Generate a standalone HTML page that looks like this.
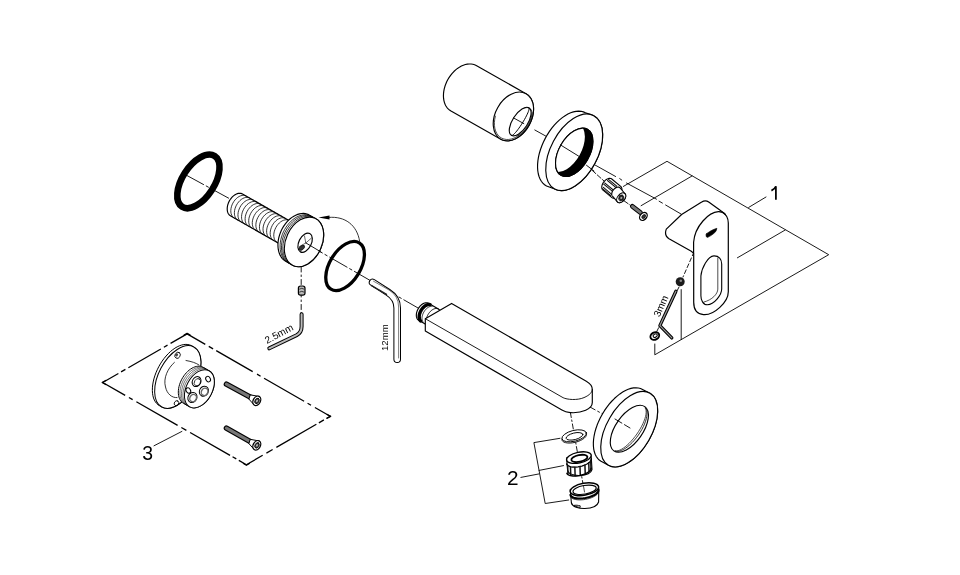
<!DOCTYPE html>
<html><head><meta charset="utf-8">
<style>
html,body{margin:0;padding:0;background:#fff;}
body{width:960px;height:575px;overflow:hidden;}
svg{display:block;will-change:transform;}
text{font-family:"Liberation Sans",sans-serif;fill:#000;stroke:none;}
</style></head><body>
<svg width="960" height="575" viewBox="0 0 960 575" fill="none" stroke="#000" stroke-width="1" stroke-linecap="round" stroke-linejoin="round">
<g stroke-width="0.9">
<path d="M534.8,130 L546,136.2 M587.5,160.8 L615.6,176.5 M619.7,178.6 L621.8,180.1 M626.5,183 L656.5,199.2 M659.1,201.2 L662.4,203.1 M665.6,205 L681,214"/>
<path d="M592,170.2 L604,181 M624,200.8 L632,206.4" stroke-dasharray="5 2"/>
<path d="M694,252 L683,277" stroke-dasharray="4 2.5"/>
<path d="M679,287 L656,333" stroke-dasharray="4 2.5"/>
<path d="M186,175 L232,200" stroke-dasharray="20 3 2.5 3"/>
<path d="M305,243 L425,312" stroke-dasharray="20 3 2.5 3"/>
<path d="M301.2,267 L301.2,313" stroke-dasharray="5 3 1.5 3"/>
<path d="M586.3,405 L630,429" stroke-dasharray="10 3 2 3"/>
<path d="M570.4,412.6 L585.5,498" stroke-dasharray="5 2.5 1.5 2.5"/>
</g>
<g stroke-width="1.15">
<path d="M476.21,65.56 L474.6,64.81 L472.89,64.29 L471.09,64.01 L469.22,63.95 L467.3,64.13 L465.33,64.54 L463.36,65.19 L461.38,66.05 L459.43,67.13 L457.51,68.41 L455.66,69.88 L453.88,71.54 L452.19,73.35 L450.62,75.3 L449.17,77.39 L447.86,79.57 L446.7,81.84 L445.7,84.18 L444.88,86.55 L444.23,88.94 L443.77,91.32 L443.51,93.68 L443.43,95.98 L443.55,98.21 L443.87,100.34 L444.37,102.36 L445.06,104.24 L445.93,105.97 L446.97,107.53 L448.17,108.9 L449.51,110.08 L450.99,111.04 L500.79,139.14 L502.4,139.89 L504.11,140.41 L505.91,140.69 L507.78,140.75 L509.7,140.57 L511.67,140.16 L513.64,139.51 L515.62,138.65 L517.57,137.57 L519.49,136.29 L521.34,134.82 L523.12,133.16 L524.81,131.35 L526.38,129.4 L527.83,127.31 L529.14,125.13 L530.3,122.86 L531.3,120.52 L532.12,118.15 L532.77,115.76 L533.23,113.38 L533.49,111.02 L533.57,108.72 L533.45,106.49 L533.13,104.36 L532.63,102.34 L531.94,100.46 L531.07,98.73 L530.03,97.17 L528.83,95.8 L527.49,94.62 L526.01,93.66 Z" fill="#fff" />
<ellipse cx="513.4" cy="116.4" rx="26" ry="18" transform="rotate(-61 513.4 116.4)" fill="#fff"/>
<path d="M532.19,112.69 L531.6,115.87 L530.66,119.06 L529.4,122.19 L527.83,125.22 L525.98,128.08 L523.9,130.71 L521.61,133.07 L519.17,135.12 L516.62,136.8 L514,138.1 L511.38,138.99 L508.79,139.44 L506.3,139.46 L503.93,139.03 L501.75,138.18 L499.79,136.91 L498.09,135.24 L496.68,133.22 L495.59,130.88 L494.84,128.26 L494.44,125.42 L494.41,122.4 L494.73,119.27 L495.41,116.09" stroke-width="0.7"/>
<ellipse cx="520.2" cy="121.6" rx="16.3" ry="7.6" transform="rotate(-57 520.2 121.6)" fill="#fff"/>
<path d="M528.84,107.78 L529.05,108.07 L529.11,108.6 L529.02,109.36 L528.78,110.32 L528.4,111.47 L527.87,112.8 L527.21,114.28 L526.43,115.88 L525.54,117.58 L524.57,119.35 L523.51,121.16 L522.4,122.98 L521.26,124.77 L520.09,126.51 L518.93,128.16 L517.79,129.7 L516.69,131.11 L515.65,132.35 L514.69,133.41 L513.82,134.26 L513.06,134.9 L512.43,135.31 L511.92,135.48 L511.56,135.42" stroke-width="1.0"/>
<path d="M523.28,108.66 L524.77,108.05 L526.18,107.7 L527.5,107.63 L528.69,107.83 L529.73,108.3 L530.6,109.03 L531.29,110.01 L531.78,111.22 L532.06,112.63 L532.13,114.22 L531.98,115.96 L531.63,117.82 L531.06,119.75 L530.31,121.73 L529.38,123.71 L528.28,125.66 L527.05,127.54 L525.69,129.32 L524.25,130.95 L522.74,132.42 L521.2,133.69 L519.65,134.73 L518.12,135.53 L516.65,136.07" stroke-width="0.6"/>
</g>
<path d="M513.7,118 L523.8,123.6" stroke-width="0.9"/>
<g stroke-width="1.15">
<path d="M585.48,112.76 L583.36,111.85 L581.06,111.31 L578.62,111.13 L576.06,111.32 L573.4,111.88 L570.67,112.8 L567.9,114.08 L565.1,115.69 L562.32,117.63 L559.57,119.87 L556.89,122.4 L554.29,125.18 L551.8,128.21 L549.45,131.43 L547.26,134.83 L545.25,138.37 L543.44,142.01 L541.85,145.73 L540.49,149.48 L539.37,153.23 L538.52,156.94 L537.92,160.58 L537.6,164.12 L537.55,167.51 L537.78,170.73 L538.27,173.74 L539.04,176.51 L540.06,179.03 L541.33,181.26 L542.84,183.19 L544.58,184.78 L546.52,186.04 L554.72,188.94 L556.84,189.85 L559.14,190.39 L561.58,190.57 L564.14,190.38 L566.8,189.82 L569.53,188.9 L572.3,187.62 L575.1,186.01 L577.88,184.07 L580.63,181.83 L583.31,179.3 L585.91,176.52 L588.4,173.49 L590.75,170.27 L592.94,166.87 L594.95,163.33 L596.76,159.69 L598.35,155.97 L599.71,152.22 L600.83,148.47 L601.68,144.76 L602.28,141.12 L602.6,137.58 L602.65,134.19 L602.42,130.97 L601.93,127.96 L601.16,125.19 L600.14,122.67 L598.87,120.44 L597.36,118.51 L595.62,116.92 L593.68,115.66 Z" fill="#fff" />
<ellipse cx="574.2" cy="152.3" rx="41.5" ry="23.5" transform="rotate(-62 574.2 152.3)" fill="#fff"/>
<clipPath id="h1"><ellipse cx="574.2" cy="152.3" rx="26.5" ry="15.2" transform="rotate(-60 574.2 152.3)" /></clipPath>
<ellipse cx="574.2" cy="152.3" rx="26.5" ry="15.2" transform="rotate(-60 574.2 152.3)" fill="#000"/>
<g clip-path="url(#h1)"><ellipse cx="566.4" cy="147.6" rx="26.5" ry="15.2" transform="rotate(-61 566.4 147.6)" fill="#fff" stroke="none"/></g>
<ellipse cx="574.2" cy="152.3" rx="26.5" ry="15.2" transform="rotate(-60 574.2 152.3)" />
</g>
<path d="M560.6,145 L578.6,156.1" stroke-width="0.9"/>
<path d="M586.5,165.3 L594,171" stroke-width="0.9"/>
<ellipse cx="198.4" cy="181.4" rx="30.2" ry="16" transform="rotate(-57.4 198.4 181.4)" stroke-width="6.6"/>
<ellipse cx="345.1" cy="266" rx="27.2" ry="15.4" transform="rotate(-58.6 345.1 266)" stroke-width="3.3"/>
<g stroke-width="1.15">
<path d="M242.47,193.96 L241.72,193.63 L240.93,193.42 L240.09,193.31 L239.22,193.31 L238.32,193.43 L237.41,193.66 L236.49,194 L235.57,194.44 L234.66,194.99 L233.77,195.63 L232.9,196.36 L232.08,197.18 L231.29,198.07 L230.56,199.03 L229.88,200.04 L229.27,201.1 L228.73,202.2 L228.27,203.33 L227.88,204.47 L227.58,205.62 L227.37,206.77 L227.25,207.89 L227.21,208.99 L227.27,210.05 L227.41,211.06 L227.65,212.01 L227.97,212.9 L228.37,213.71 L228.86,214.43 L229.41,215.06 L230.04,215.6 L230.73,216.04 L279.43,243.74 L280.18,244.07 L280.97,244.28 L281.81,244.39 L282.68,244.39 L283.58,244.27 L284.49,244.04 L285.41,243.7 L286.33,243.26 L287.24,242.71 L288.13,242.07 L289,241.34 L289.82,240.52 L290.61,239.63 L291.34,238.67 L292.02,237.66 L292.63,236.6 L293.17,235.5 L293.63,234.37 L294.02,233.23 L294.32,232.08 L294.53,230.93 L294.65,229.81 L294.69,228.71 L294.63,227.65 L294.49,226.64 L294.25,225.69 L293.93,224.8 L293.53,223.99 L293.04,223.27 L292.49,222.64 L291.86,222.1 L291.17,221.66 Z" fill="#fff" />
</g>
<g stroke-width="0.8">
<path d="M246.05,196 L244.83,195.53 L243.5,195.34 L242.08,195.43 L240.62,195.82 L239.15,196.48 L237.7,197.4 L236.32,198.55 L235.02,199.92 L233.86,201.46 L232.85,203.14 L232.02,204.91 L231.4,206.74 L230.99,208.58 L230.8,210.37 L230.85,212.09 L231.13,213.68 L231.63,215.1 L232.34,216.33 L233.24,217.33 L234.31,218.07"/>
<path d="M249.63,198.04 L248.41,197.56 L247.08,197.37 L245.66,197.47 L244.2,197.85 L242.73,198.51 L241.28,199.43 L239.9,200.59 L238.61,201.96 L237.44,203.5 L236.43,205.18 L235.61,206.95 L234.98,208.78 L234.57,210.61 L234.38,212.41 L234.43,214.12 L234.71,215.71 L235.21,217.14 L235.92,218.37 L236.82,219.36 L237.89,220.11"/>
<path d="M253.21,200.07 L251.99,199.6 L250.66,199.41 L249.24,199.51 L247.78,199.89 L246.31,200.55 L244.86,201.47 L243.48,202.63 L242.19,203.99 L241.02,205.54 L240.01,207.21 L239.19,208.99 L238.56,210.81 L238.15,212.65 L237.96,214.45 L238.01,216.16 L238.29,217.75 L238.79,219.18 L239.5,220.4 L240.4,221.4 L241.47,222.15"/>
<path d="M256.79,202.11 L255.57,201.64 L254.24,201.45 L252.83,201.54 L251.36,201.93 L249.89,202.59 L248.44,203.51 L247.06,204.66 L245.77,206.03 L244.6,207.57 L243.6,209.25 L242.77,211.02 L242.14,212.85 L241.73,214.69 L241.55,216.48 L241.59,218.2 L241.87,219.79 L242.37,221.21 L243.08,222.44 L243.98,223.44 L245.06,224.18"/>
<path d="M260.37,204.15 L259.15,203.67 L257.82,203.48 L256.41,203.58 L254.94,203.96 L253.47,204.62 L252.02,205.54 L250.64,206.7 L249.35,208.07 L248.18,209.61 L247.18,211.29 L246.35,213.06 L245.72,214.89 L245.31,216.72 L245.13,218.52 L245.17,220.23 L245.45,221.82 L245.95,223.25 L246.66,224.48 L247.56,225.48 L248.64,226.22"/>
<path d="M263.95,206.18 L262.74,205.71 L261.4,205.52 L259.99,205.62 L258.53,206 L257.05,206.66 L255.61,207.58 L254.22,208.74 L252.93,210.1 L251.77,211.65 L250.76,213.32 L249.93,215.1 L249.3,216.93 L248.89,218.76 L248.71,220.56 L248.75,222.27 L249.03,223.86 L249.53,225.29 L250.24,226.51 L251.14,227.51 L252.22,228.26"/>
<path d="M267.53,208.22 L266.32,207.75 L264.98,207.56 L263.57,207.65 L262.11,208.04 L260.63,208.7 L259.19,209.62 L257.8,210.77 L256.51,212.14 L255.35,213.68 L254.34,215.36 L253.51,217.14 L252.88,218.96 L252.47,220.8 L252.29,222.59 L252.33,224.31 L252.61,225.9 L253.11,227.32 L253.82,228.55 L254.72,229.55 L255.8,230.29"/>
<path d="M271.12,210.26 L269.9,209.78 L268.56,209.59 L267.15,209.69 L265.69,210.07 L264.21,210.73 L262.77,211.65 L261.38,212.81 L260.09,214.18 L258.93,215.72 L257.92,217.4 L257.09,219.17 L256.46,221 L256.05,222.83 L255.87,224.63 L255.92,226.34 L256.19,227.93 L256.69,229.36 L257.4,230.59 L258.3,231.59 L259.38,232.33"/>
<path d="M274.7,212.29 L273.48,211.82 L272.14,211.63 L270.73,211.73 L269.27,212.11 L267.8,212.77 L266.35,213.69 L264.96,214.85 L263.67,216.21 L262.51,217.76 L261.5,219.43 L260.67,221.21 L260.04,223.04 L259.63,224.87 L259.45,226.67 L259.5,228.38 L259.77,229.97 L260.27,231.4 L260.98,232.62 L261.89,233.62 L262.96,234.37"/>
<path d="M278.28,214.33 L277.06,213.86 L275.73,213.67 L274.31,213.76 L272.85,214.15 L271.38,214.81 L269.93,215.73 L268.54,216.89 L267.25,218.25 L266.09,219.79 L265.08,221.47 L264.25,223.25 L263.63,225.07 L263.21,226.91 L263.03,228.7 L263.08,230.42 L263.35,232.01 L263.85,233.43 L264.56,234.66 L265.47,235.66 L266.54,236.4"/>
<path d="M281.86,216.37 L280.64,215.89 L279.31,215.7 L277.89,215.8 L276.43,216.19 L274.96,216.84 L273.51,217.76 L272.12,218.92 L270.83,220.29 L269.67,221.83 L268.66,223.51 L267.83,225.28 L267.21,227.11 L266.8,228.94 L266.61,230.74 L266.66,232.45 L266.93,234.04 L267.43,235.47 L268.14,236.7 L269.05,237.7 L270.12,238.44"/>
<path d="M285.44,218.4 L284.22,217.93 L282.89,217.74 L281.47,217.84 L280.01,218.22 L278.54,218.88 L277.09,219.8 L275.71,220.96 L274.41,222.32 L273.25,223.87 L272.24,225.54 L271.41,227.32 L270.79,229.15 L270.38,230.98 L270.19,232.78 L270.24,234.49 L270.52,236.08 L271.01,237.51 L271.72,238.73 L272.63,239.73 L273.7,240.48"/>
<path d="M289.02,220.44 L287.8,219.97 L286.47,219.78 L285.05,219.88 L283.59,220.26 L282.12,220.92 L280.67,221.84 L279.29,223 L278,224.36 L276.83,225.9 L275.82,227.58 L275,229.36 L274.37,231.18 L273.96,233.02 L273.77,234.81 L273.82,236.53 L274.1,238.12 L274.6,239.54 L275.31,240.77 L276.21,241.77 L277.28,242.51"/>
</g>
<g stroke-width="1.15">
<path d="M308.59,214.64 L306.94,214 L305.19,213.6 L303.38,213.44 L301.51,213.52 L299.6,213.83 L297.67,214.38 L295.74,215.16 L293.83,216.16 L291.96,217.37 L290.14,218.78 L288.39,220.38 L286.73,222.15 L285.18,224.08 L283.74,226.14 L282.44,228.32 L281.29,230.59 L280.29,232.94 L279.46,235.34 L278.8,237.76 L278.32,240.19 L278.03,242.6 L277.93,244.97 L278.02,247.27 L278.29,249.48 L278.76,251.59 L279.4,253.57 L280.22,255.4 L281.21,257.06 L282.35,258.54 L283.64,259.83 L285.07,260.9 L286.61,261.76 L293.01,265.46 L294.66,266.1 L296.41,266.5 L298.22,266.66 L300.09,266.58 L302,266.27 L303.93,265.72 L305.86,264.94 L307.77,263.94 L309.64,262.73 L311.46,261.32 L313.21,259.72 L314.87,257.95 L316.42,256.02 L317.86,253.96 L319.16,251.78 L320.31,249.51 L321.31,247.16 L322.14,244.76 L322.8,242.34 L323.28,239.91 L323.57,237.5 L323.67,235.13 L323.58,232.83 L323.31,230.62 L322.84,228.51 L322.2,226.53 L321.38,224.7 L320.39,223.04 L319.25,221.56 L317.96,220.27 L316.53,219.2 L314.99,218.34 Z" fill="#fff" />
<path d="M313.51,217.49 L311.75,216.83 L309.88,216.43 L307.93,216.3 L305.93,216.44 L303.88,216.85 L301.82,217.52 L299.77,218.46 L297.75,219.64 L295.78,221.05 L293.89,222.69 L292.09,224.52 L290.4,226.54 L288.85,228.72 L287.45,231.03 L286.21,233.45 L285.15,235.96 L284.28,238.52 L283.61,241.11 L283.15,243.69 L282.9,246.25 L282.87,248.75 L283.05,251.17 L283.44,253.48 L284.04,255.65 L284.85,257.66 L285.85,259.49 L287.03,261.12 L288.38,262.53 L289.89,263.7 L291.53,264.62" stroke-width="0.8"/>
<path d="M312.12,216.7 L310.35,216.04 L308.49,215.64 L306.54,215.51 L304.54,215.65 L302.49,216.06 L300.43,216.73 L298.38,217.66 L296.36,218.85 L294.39,220.26 L292.5,221.9 L290.7,223.73 L289.01,225.75 L287.46,227.93 L286.06,230.24 L284.82,232.66 L283.76,235.16 L282.89,237.72 L282.22,240.31 L281.76,242.9 L281.51,245.46 L281.48,247.96 L281.66,250.38 L282.05,252.69 L282.65,254.86 L283.46,256.87 L284.46,258.7 L285.64,260.33 L286.99,261.73 L288.5,262.91 L290.14,263.83" stroke-width="0.8"/>
<path d="M310.73,215.91 L308.96,215.24 L307.1,214.84 L305.15,214.71 L303.14,214.85 L301.1,215.26 L299.04,215.94 L296.99,216.87 L294.97,218.05 L293,219.47 L291.11,221.1 L289.31,222.94 L287.62,224.96 L286.07,227.13 L284.67,229.45 L283.43,231.87 L282.37,234.37 L281.5,236.93 L280.83,239.52 L280.37,242.11 L280.12,244.67 L280.09,247.17 L280.27,249.59 L280.66,251.9 L281.26,254.07 L282.07,256.08 L283.07,257.91 L284.25,259.53 L285.6,260.94 L287.11,262.11 L288.75,263.04" stroke-width="0.8"/>
<ellipse cx="304" cy="241.9" rx="26" ry="18" transform="rotate(-65 304 241.9)" fill="#fff"/>
<ellipse cx="305.1" cy="242.7" rx="10.3" ry="6.2" transform="rotate(-63 305.1 242.7)" />
<path d="M299.5,246.5 L305.8,243 L311.5,238 M305.8,243 L304.5,236" stroke-width="0.6"/>
</g>
<path d="M306,243 L321,252" stroke-width="0.9"/>
<ellipse cx="301.8" cy="247.8" rx="3.2" ry="2" transform="rotate(-40 301.8 247.8)" fill="#333" stroke-width="0.6"/>
<path d="M329,217.4 C345,216 357,225 359.6,241" stroke-width="0.8"/>
<path d="M318.5,217.5 L329.5,215.6 L329.5,219.4 Z" fill="#000" stroke="none"/>
<rect x="298.4" y="286" width="6.6" height="9.2" rx="2.2" fill="#bbb" stroke-width="1.2"/>
<path d="M299.5,289 Q301.7,287.5 304,289 M299.5,292 Q301.7,290.5 304,292" stroke-width="0.7"/>
<path d="M301.6,314.3 L301.6,326.5 Q301.6,332.5 296.6,335.2 L269.3,348.3" stroke-width="4"/>
<path d="M301.6,314.3 L301.6,326.5 Q301.6,332.5 296.6,335.2 L269.3,348.3" stroke="#bbb" stroke-width="2"/>
<text font-size="10" transform="translate(267.1,344.0) rotate(-28)" stroke="#000" stroke-width="0.15">2.5mm</text>
<path d="M372.6,282.4 L388,292.3 Q397.2,298 397.2,308 L397.2,359.2" stroke-width="7.6"/>
<path d="M372.6,282.4 L388,292.3 Q397.2,298 397.2,308 L397.2,359.2" stroke="#fff" stroke-width="5.6"/>
<path d="M371.5,285.6 L386.5,294.3" stroke="#222" stroke-width="1.4" stroke-dasharray="1.2 0.5"/>
<path d="M373.5,281.2 L389,290 Q398.6,295.8 398.6,307 L398.6,358" stroke="#222" stroke-width="0.6"/>
<text font-size="9.6" transform="translate(387.8,351) rotate(-90)" stroke="#000" stroke-width="0.15">12mm</text>
<g stroke-width="1.15">
<path d="M428.5,303.31 L427.95,303.05 L427.36,302.87 L426.73,302.78 L426.07,302.77 L425.39,302.85 L424.69,303.02 L423.98,303.27 L423.27,303.61 L422.56,304.02 L421.86,304.51 L421.17,305.07 L420.51,305.69 L419.88,306.37 L419.29,307.1 L418.74,307.88 L418.23,308.7 L417.78,309.55 L417.38,310.42 L417.04,311.3 L416.76,312.18 L416.55,313.07 L416.41,313.94 L416.34,314.79 L416.34,315.61 L416.41,316.39 L416.54,317.13 L416.75,317.82 L417.02,318.45 L417.35,319.02 L417.75,319.52 L418.2,319.94 L418.7,320.29 L428.6,325.99 L429.15,326.25 L429.74,326.43 L430.37,326.52 L431.03,326.53 L431.71,326.45 L432.41,326.28 L433.12,326.03 L433.83,325.69 L434.54,325.28 L435.24,324.79 L435.93,324.23 L436.59,323.61 L437.22,322.93 L437.81,322.2 L438.36,321.42 L438.87,320.6 L439.32,319.75 L439.72,318.88 L440.06,318 L440.34,317.12 L440.55,316.23 L440.69,315.36 L440.76,314.51 L440.76,313.69 L440.69,312.91 L440.56,312.17 L440.35,311.48 L440.08,310.85 L439.75,310.28 L439.35,309.78 L438.9,309.36 L438.4,309.01 Z" fill="#fff" />
<path d="M430.04,304.6 L429.33,304.49 L428.58,304.5 L427.8,304.62 L427,304.87 L426.19,305.23 L425.37,305.7 L424.57,306.27 L423.79,306.93 L423.04,307.68 L422.34,308.51 L421.68,309.4 L421.09,310.35 L420.57,311.34 L420.12,312.35 L419.76,313.37 L419.48,314.4 L419.29,315.4 L419.2,316.38 L419.2,317.32 L419.3,318.21 L419.49,319.02 L419.77,319.77 L420.14,320.42 L420.59,320.98" stroke-width="3.4"/>
<path d="M432.14,306.29 L431.46,306.26 L430.75,306.34 L430.02,306.52 L429.27,306.8 L428.52,307.18 L427.78,307.64 L427.04,308.2 L426.33,308.83 L425.65,309.54 L425.01,310.31 L424.42,311.13 L423.88,312 L423.4,312.9 L422.98,313.83 L422.63,314.77 L422.36,315.71 L422.17,316.64 L422.05,317.55 L422.02,318.43 L422.07,319.27 L422.2,320.06 L422.41,320.78 L422.7,321.44 L423.06,322.01" stroke-width="0.8"/>
<path d="M438.4,309.01 L437.66,308.68 L436.84,308.5 L435.97,308.47 L435.06,308.6 L434.12,308.88 L433.17,309.31 L432.22,309.87 L431.3,310.57 L430.41,311.39 L429.58,312.31 L428.82,313.32 L428.13,314.4 L427.54,315.53 L427.05,316.7 L426.66,317.88 L426.4,319.06 L426.26,320.21 L426.24,321.31 L426.34,322.35 L426.57,323.3 L426.92,324.15 L427.38,324.9 L427.94,325.51 L428.6,325.99" stroke-width="0.9"/>
<path d="M425.3,318.7 L451.6,303.4 L586.3,381.3 C590.6,383.8 592.3,386.5 592.3,389.5 L592.3,402.6 C592.3,409 582,413.4 570.4,412.6 C566.5,412.3 563.8,411.2 561.9,410 L425.3,331.1 Z" fill="#fff"/>
<path d="M425.3,318.7 L563.1,397.7 C567,399.6 577,400.6 584,397.6 C590,395 592.3,392 592.3,389.5" stroke-width="0.9"/>
</g>
<g stroke-width="1.15">
<path d="M642.55,389.46 L640.54,388.53 L638.35,387.96 L636,387.74 L633.51,387.89 L630.91,388.4 L628.23,389.27 L625.48,390.48 L622.69,392.03 L619.9,393.9 L617.13,396.08 L614.4,398.54 L611.74,401.25 L609.18,404.2 L606.74,407.35 L604.44,410.68 L602.31,414.15 L600.37,417.73 L598.64,421.38 L597.13,425.07 L595.86,428.76 L594.83,432.42 L594.07,436.01 L593.57,439.5 L593.35,442.86 L593.4,446.05 L593.72,449.03 L594.31,451.79 L595.17,454.3 L596.29,456.53 L597.65,458.45 L599.24,460.06 L601.05,461.34 L608.45,465.14 L610.46,466.07 L612.65,466.64 L615,466.86 L617.49,466.71 L620.09,466.2 L622.77,465.33 L625.52,464.12 L628.31,462.57 L631.1,460.7 L633.87,458.52 L636.6,456.06 L639.26,453.35 L641.82,450.4 L644.26,447.25 L646.56,443.92 L648.69,440.45 L650.63,436.87 L652.36,433.22 L653.87,429.53 L655.14,425.84 L656.17,422.18 L656.93,418.59 L657.43,415.1 L657.65,411.74 L657.6,408.55 L657.28,405.57 L656.69,402.81 L655.83,400.3 L654.71,398.07 L653.35,396.15 L651.76,394.54 L649.95,393.26 Z" fill="#fff" />
<ellipse cx="629.2" cy="429.2" rx="41.5" ry="22.5" transform="rotate(-60 629.2 429.2)" fill="#fff"/>
<ellipse cx="629.35" cy="428.75" rx="27" ry="13.6" transform="rotate(-55 629.35 428.75)" />
<path d="M645.33,407.59 L646.16,408.76 L646.72,410.24 L647.02,412 L647.05,414.01 L646.81,416.25 L646.3,418.68 L645.54,421.26 L644.52,423.96 L643.28,426.73 L641.82,429.53 L640.17,432.32 L638.36,435.06 L636.41,437.7 L634.35,440.2 L632.22,442.53 L630.04,444.64 L627.85,446.52 L625.69,448.12 L623.58,449.43 L621.55,450.42 L619.65,451.08 L617.9,451.4 L616.32,451.38 L614.94,451.01" stroke-width="0.8"/>
<path d="M645.28,408.23 L645.81,409.35 L646.1,410.75 L646.15,412.41 L645.97,414.29 L645.55,416.38 L644.9,418.65 L644.03,421.06 L642.95,423.58 L641.67,426.18 L640.22,428.81 L638.62,431.44 L636.89,434.03 L635.04,436.54 L633.12,438.95 L631.15,441.21 L629.14,443.29 L627.15,445.17 L625.18,446.81 L623.27,448.2 L621.45,449.31 L619.74,450.13 L618.17,450.64 L616.75,450.85 L615.52,450.74" stroke-width="0.7"/>
</g>
<path d="M615,419 L630,428" stroke-width="0.9" stroke-dasharray="8 3"/>
<g stroke-width="0.9">
<ellipse cx="574.2" cy="435.8" rx="12.6" ry="5.4" transform="rotate(-14 574.2 435.8)" fill="#fff"/>
<ellipse cx="574.5" cy="436.3" rx="8.6" ry="3.3" transform="rotate(-14 574.5 436.3)" />
<path d="M586.01,433.09 L586.47,434.18 L586.35,435.41 L585.65,436.72 L584.41,438.03 L582.68,439.3 L580.55,440.46 L578.12,441.46 L575.51,442.24 L572.83,442.78 L570.22,443.04 L567.79,443.01 L565.67,442.7 L563.96,442.12 L562.73,441.3 L562.04,440.27 L561.93,439.09"/>
<path d="M566.6,457.8 L567.6,470.5 C569.5,477.5 590,477 592,469.5 L591.2,456.5" fill="#fff" stroke-width="1.1"/>
<ellipse cx="578.9" cy="457.6" rx="12.6" ry="5.3" transform="rotate(-12 578.9 457.6)" fill="#fff" stroke-width="1.3"/>
<ellipse cx="579.4" cy="458.4" rx="8.2" ry="3.3" transform="rotate(-12 579.4 458.4)" stroke-width="1.8"/>
<path d="M591.13,458.7 L591.15,459.54 L590.87,460.43 L590.29,461.34 L589.44,462.24 L588.32,463.13 L586.98,463.97 L585.43,464.74 L583.73,465.43 L581.9,466.01 L580,466.48 L578.08,466.83 L576.17,467.03 L574.33,467.1 L572.6,467.02 L571.03,466.8 L569.66,466.45 L568.51,465.97 L567.61,465.37 L567,464.68 L566.67,463.9" stroke-width="1.3"/>
<path d="M567.65,465.27 L567.95,473.87 M570.45,466.71 L570.75,475.31 M574.84,467.18 L575.14,475.78 M579.98,466.59 L580.28,475.19 M584.92,465.04 L585.22,473.64 M588.74,462.83 L589.04,471.43 M590.71,460.37 L591.01,468.97" stroke-width="1.5" stroke="#111"/>
<path d="M591.08,468.18 L590.95,469 L590.56,469.85 L589.91,470.71 L589.02,471.56 L587.91,472.38 L586.6,473.16 L585.12,473.87 L583.5,474.5 L581.78,475.05 L580,475.48 L578.2,475.81 L576.41,476.01 L574.67,476.09 L573.03,476.04 L571.52,475.86 L570.17,475.57 L569.01,475.15 L568.07,474.63 L567.36,474.02 L566.91,473.32" stroke-width="1.5"/>
<path d="M570.2,489.5 L571.4,503 C573.5,510.5 596,510.5 598.6,502 L598.8,488.5" fill="#fff" stroke-width="1.1"/>
<ellipse cx="584.4" cy="489.2" rx="14.4" ry="6" transform="rotate(-10 584.4 489.2)" fill="#fff" stroke-width="1.5"/>
<ellipse cx="584.6" cy="489.8" rx="11.8" ry="4.3" transform="rotate(-10 584.6 489.8)" stroke-width="1.1"/>
<path d="M598.52,490.02 L598.4,490.95 L597.96,491.9 L597.2,492.86 L596.16,493.8 L594.84,494.71 L593.28,495.55 L591.52,496.33 L589.59,497 L587.54,497.57 L585.42,498.01 L583.28,498.32 L581.17,498.49 L579.12,498.51 L577.2,498.39 L575.45,498.12 L573.9,497.72 L572.59,497.2 L571.56,496.55 L570.82,495.81 L570.39,494.98" stroke-width="2.1"/>
<path d="M598.52,491.63 L598.33,492.54 L597.84,493.47 L597.05,494.41 L595.99,495.33 L594.67,496.21 L593.12,497.03 L591.39,497.78 L589.5,498.43 L587.49,498.98 L585.42,499.41 L583.33,499.71 L581.26,499.88 L579.26,499.91 L577.37,499.81 L575.64,499.56 L574.1,499.19 L572.79,498.69 L571.73,498.08 L570.95,497.37 L570.46,496.58" stroke-width="0.7"/>
<path d="M574.6,505.4 C576,506.6 578.5,507.2 580.2,507.4 L580.2,505.8 C578,505.4 576,504.8 574.6,505.4" stroke-width="0.9"/>
<path d="M583.5,486 L584.5,492" stroke-width="0.7"/>
</g>
<path d="M560,438.3 L533.9,442.6 L545.2,503.5 L568.7,500 M539.1,470.4 L563.5,465.6 M520.9,477.4 L539.1,473.9" stroke-width="0.9"/>
<text x="507" y="485.4" font-size="20.8" stroke="#000" stroke-width="0.35">2</text>
<path d="M623.4,186.4 L667,161.3 L828.7,254.7 L654.8,354.8 L654.8,344 M692,176 L641.1,205.7 M785.2,230 L737.4,257.8 M681.2,339.5 L681.2,289.6 M748.7,207.4 L766,197" stroke-width="0.9"/>
<path d="M771.4,190.6 C773.5,189.6 775.2,188.2 775.9,186.2 L775.9,199.8" stroke-width="1.75" stroke-linecap="butt" stroke-linejoin="miter"/>
<g stroke-width="1.1">
<path d="M611.77,179.01 L611.4,178.76 L611,178.57 L610.55,178.44 L610.08,178.37 L609.58,178.36 L609.06,178.41 L608.53,178.52 L607.98,178.68 L607.43,178.91 L606.88,179.19 L606.33,179.52 L605.8,179.9 L605.28,180.32 L604.77,180.79 L604.3,181.29 L603.85,181.83 L603.44,182.39 L603.07,182.97 L602.74,183.57 L602.45,184.18 L602.21,184.79 L602.02,185.4 L601.89,186.01 L601.8,186.6 L601.77,187.17 L601.8,187.71 L601.87,188.23 L602,188.71 L602.19,189.15 L602.42,189.55 L602.7,189.9 L603.03,190.19 L611.93,197.59 L612.3,197.84 L612.7,198.03 L613.15,198.16 L613.62,198.23 L614.12,198.24 L614.64,198.19 L615.17,198.08 L615.72,197.92 L616.27,197.69 L616.82,197.41 L617.37,197.08 L617.9,196.7 L618.42,196.28 L618.93,195.81 L619.4,195.31 L619.85,194.77 L620.26,194.21 L620.63,193.63 L620.96,193.03 L621.25,192.42 L621.49,191.81 L621.68,191.2 L621.81,190.59 L621.9,190 L621.93,189.43 L621.9,188.89 L621.83,188.37 L621.7,187.89 L621.51,187.45 L621.28,187.05 L621,186.7 L620.67,186.41 Z" fill="#fff" />
<path d="M602.58,187.76 L611.48,195.16 M603.86,183.22 L612.76,190.62 M607.66,179.66 L616.56,187.06" stroke-width="2.6" stroke="#111" stroke-linecap="butt"/>
<path d="M602.58,187.76 L611.48,195.16 M603.86,183.22 L612.76,190.62 M607.66,179.66 L616.56,187.06" stroke-width="0.7" stroke="#fff" stroke-linecap="butt"/>
<path d="M619.9,187.71 L619.61,187.5 L619.29,187.34 L618.94,187.22 L618.57,187.15 L618.17,187.13 L617.76,187.15 L617.33,187.22 L616.9,187.33 L616.45,187.49 L616.01,187.69 L615.56,187.94 L615.13,188.22 L614.71,188.54 L614.3,188.89 L613.91,189.28 L613.54,189.69 L613.2,190.12 L612.89,190.57 L612.62,191.03 L612.37,191.5 L612.17,191.98 L612.01,192.46 L611.88,192.93 L611.8,193.4 L611.77,193.85 L611.77,194.28 L611.83,194.69 L611.92,195.08 L612.05,195.43 L612.23,195.76 L612.45,196.04 L612.7,196.29 L617.6,202.09 L617.89,202.3 L618.21,202.46 L618.56,202.58 L618.93,202.65 L619.33,202.67 L619.74,202.65 L620.17,202.58 L620.6,202.47 L621.05,202.31 L621.49,202.11 L621.94,201.86 L622.37,201.58 L622.79,201.26 L623.2,200.91 L623.59,200.52 L623.96,200.11 L624.3,199.68 L624.61,199.23 L624.88,198.77 L625.13,198.3 L625.33,197.82 L625.49,197.34 L625.62,196.87 L625.7,196.4 L625.73,195.95 L625.73,195.52 L625.67,195.11 L625.58,194.72 L625.45,194.37 L625.27,194.04 L625.05,193.76 L624.8,193.51 Z" fill="#fff" />
<ellipse cx="621.2" cy="197.8" rx="5.6" ry="3.6" transform="rotate(-50 621.2 197.8)" fill="#fff" stroke-width="1.1"/>
<path d="M618.6,198.8 L619.4,195.6 L622.4,194.8 L624,197 L623.2,200.2 L620.2,201 Z" fill="#222" stroke-width="0.6"/>
<ellipse cx="621.3" cy="197.9" rx="1.2" ry="0.9" transform="rotate(-50 621.3 197.9)" fill="#aaa" stroke="none"/>
</g>
<path d="M632.4,206.4 L640.5,212.6" stroke-width="4.8"/>
<path d="M632.4,206.4 L640.5,212.6" stroke-width="2.8" stroke="#777"/>
<ellipse cx="643.4" cy="216.4" rx="4.4" ry="3.3" transform="rotate(-50 643.4 216.4)" fill="#fff" stroke-width="1.3"/>
<ellipse cx="643.7" cy="216.6" rx="2.3" ry="1.6" transform="rotate(-50 643.7 216.6)" fill="#333" stroke-width="0.6"/>
<g stroke-width="1.2">
<path d="M681.6,214.5 L701.7,202 C703.5,200.8 706.5,200.4 708.7,202 L721.2,211 C726,214 728.3,218 728.3,223 L728.3,291.7 C728.3,302 714,315.5 703.5,314.6 C697,314 693.7,309 693.7,302.2 L693.7,253.4 L691.3,251.3 L669,238.8 C665.5,236.5 665,232.5 666.3,229.1 Z" fill="#fff"/>
<path d="M693.6,253 L693.6,242.3 C694.8,226 709,212 718.4,211.7 C721,211.6 723,211.8 725.4,214.5" fill="none"/>
<path d="M700.9,276 C701.5,268 708,256 713.9,255.9 C719,255.8 721.7,259 721.7,264 L721.7,289.1 C721.7,295 714,304.8 707.4,304.8 C703,304.8 700.9,300 700.9,295.7 Z" stroke-width="1.1"/>
<path d="M717.8,258 L717.8,289.1 C717.8,294 712,300 704,302" stroke-width="0.7"/>
<path d="M706.3,233.9 C709,231.8 713.5,229.2 716.9,228.3 C716.6,230.2 716,231.5 714.8,232.6 C712.5,234.6 710,236.4 707.8,237.3 C706.2,237.9 705.6,235.2 706.3,233.9 Z" fill="#000" stroke-width="0.6"/>
</g>
<circle cx="680.2" cy="281.7" r="4.5" fill="#1a1a1a" stroke="none"/>
<circle cx="680.8" cy="280.8" r="1.3" fill="#888" stroke="none"/>
<path d="M675.9,291.2 L659.9,325.6 L671.8,337.9" stroke-width="3.3"/>
<path d="M675.9,291.2 L659.9,325.6 L671.8,337.9" stroke="#999" stroke-width="1.2"/>
<text font-size="10" transform="translate(659.6,317.6) rotate(-66)" stroke="#000" stroke-width="0.15">3mm</text>
<ellipse cx="654.8" cy="336" rx="4.6" ry="3.6" transform="rotate(-30 654.8 336)" fill="#fff" stroke-width="1.9"/>
<ellipse cx="655.2" cy="335.6" rx="2.2" ry="1.6" transform="rotate(-30 655.2 335.6)" stroke-width="1.1"/>
<path d="M102.7,382.5 L187.1,333.9" stroke-width="1.3" stroke-linecap="butt" stroke-dasharray="18.1 3.1 5 3.4 37.5 3.5 4.2 3.5 40"/>
<path d="M187.1,333.9 L330.2,416.3" stroke-width="1.3" stroke-linecap="butt" stroke-dasharray="21 4 5 3.6 42.1 5 4.1 4 46.2 4 4 4.5 40"/>
<path d="M246.4,464.7 L330.2,416.3" stroke-width="1.3" stroke-linecap="butt" stroke-dasharray="18.8 4.3 7.2 4.3 46.2 2.9 5.8 2.9 40"/>
<path d="M102.7,382.5 L246.4,464.7" stroke-width="1.3" stroke-linecap="butt" stroke-dasharray="25.9 4.3 4.3 4.3 47.5 4.3 5.8 4.3 46 2.9 4.3 2.9 40"/>
<path d="M102.2,382.5 L105.7,380.5 M102.2,382.5 L105.7,384.5 M187.1,333.4 L184.1,335.09999999999997 M187.1,333.4 L190.1,335.09999999999997 M330.7,416.3 L327.2,414.5 M330.7,416.3 L327.2,418.1 M246.4,465.2 L243.4,463.5 M246.4,465.2 L249.4,463.5" stroke-width="1.3"/>
<path d="M154,445.8 L181.9,431.4" stroke-width="0.9"/>
<text x="142.2" y="460.3" font-size="19.4" stroke="#000" stroke-width="0.3">3</text>
<g stroke-width="1">
<path d="M191.46,345.68 L189.74,344.95 L187.88,344.52 L185.9,344.38 L183.83,344.55 L181.67,345.02 L179.45,345.78 L177.2,346.84 L174.92,348.17 L172.66,349.76 L170.42,351.6 L168.23,353.68 L166.11,355.97 L164.08,358.45 L162.16,361.09 L160.37,363.88 L158.72,366.78 L157.24,369.77 L155.93,372.81 L154.81,375.88 L153.89,378.95 L153.18,381.98 L152.68,384.96 L152.41,387.85 L152.35,390.62 L152.52,393.25 L152.91,395.71 L153.51,397.97 L154.33,400.02 L155.36,401.84 L156.57,403.4 L157.97,404.7 L159.54,405.72 L161.84,407.02 L163.56,407.75 L165.42,408.18 L167.4,408.32 L169.47,408.15 L171.63,407.68 L173.85,406.92 L176.1,405.86 L178.38,404.53 L180.64,402.94 L182.88,401.1 L185.07,399.02 L187.19,396.73 L189.22,394.25 L191.14,391.61 L192.93,388.82 L194.58,385.92 L196.06,382.93 L197.37,379.89 L198.49,376.82 L199.41,373.75 L200.12,370.72 L200.62,367.74 L200.89,364.85 L200.95,362.08 L200.78,359.45 L200.39,356.99 L199.79,354.73 L198.97,352.68 L197.94,350.86 L196.73,349.3 L195.33,348 L193.76,346.98 Z" fill="#fff" />
<ellipse cx="177.8" cy="377" rx="34" ry="19" transform="rotate(-62 177.8 377)" fill="#fff"/>
<path d="M174.4,362.4 C168,368 163,378 165.5,387 C167,394 172,398 177,397.6" stroke-width="0.8"/>
<path d="M186,360.5 C192,361.5 196,363 199,365" stroke-width="0.8"/>
<ellipse cx="177.6" cy="355.3" rx="3.2" ry="2.6" transform="rotate(-60 177.6 355.3)" stroke-width="0.8"/>
<ellipse cx="176.6" cy="354.8" rx="1.6" ry="1.4" transform="rotate(-60 176.6 354.8)" fill="#444" stroke="none"/>
<ellipse cx="176.5" cy="403.2" rx="2.6" ry="2.2" transform="rotate(-60 176.5 403.2)" stroke-width="0.8"/>
<path d="M202.92,367.2 L201.75,366.69 L200.5,366.36 L199.18,366.21 L197.8,366.24 L196.38,366.46 L194.93,366.86 L193.46,367.44 L191.99,368.19 L190.53,369.1 L189.1,370.17 L187.71,371.39 L186.38,372.73 L185.11,374.21 L183.92,375.78 L182.82,377.45 L181.82,379.2 L180.93,381 L180.16,382.85 L179.52,384.71 L179.01,386.59 L178.64,388.45 L178.41,390.28 L178.32,392.07 L178.38,393.78 L178.58,395.42 L178.92,396.96 L179.4,398.39 L180.02,399.69 L180.76,400.85 L181.62,401.86 L182.6,402.72 L183.68,403.4 L189.78,406.9 L190.95,407.41 L192.2,407.74 L193.52,407.89 L194.9,407.86 L196.32,407.64 L197.77,407.24 L199.24,406.66 L200.71,405.91 L202.17,405 L203.6,403.93 L204.99,402.71 L206.32,401.37 L207.59,399.89 L208.78,398.32 L209.88,396.65 L210.88,394.9 L211.77,393.1 L212.54,391.25 L213.18,389.39 L213.69,387.51 L214.06,385.65 L214.29,383.82 L214.38,382.03 L214.32,380.32 L214.12,378.68 L213.78,377.14 L213.3,375.71 L212.68,374.41 L211.94,373.25 L211.08,372.24 L210.1,371.38 L209.02,370.7 Z" fill="#fff" />
<path d="M208.49,370.45 L207.25,369.71 L205.91,369.2 L204.46,368.91 L202.94,368.86 L201.35,369.04 L199.72,369.45 L198.07,370.08 L196.42,370.94 L194.78,372 L193.18,373.25 L191.64,374.69 L190.18,376.29 L188.81,378.03 L187.55,379.89 L186.42,381.85 L185.43,383.88 L184.59,385.96 L183.91,388.07 L183.41,390.18 L183.08,392.26 L182.93,394.28 L182.96,396.23 L183.18,398.08 L183.58,399.81 L184.15,401.39 L184.89,402.8 L185.78,404.04 L186.83,405.07 L188.01,405.9 L189.31,406.51" stroke-width="0.55"/>
<path d="M206.99,369.6 L205.75,368.86 L204.41,368.35 L202.96,368.06 L201.44,368.01 L199.85,368.19 L198.22,368.6 L196.57,369.23 L194.92,370.09 L193.28,371.15 L191.68,372.4 L190.14,373.84 L188.68,375.44 L187.31,377.18 L186.05,379.04 L184.92,381 L183.93,383.03 L183.09,385.11 L182.41,387.22 L181.91,389.33 L181.58,391.41 L181.43,393.43 L181.46,395.38 L181.68,397.23 L182.08,398.96 L182.65,400.54 L183.39,401.95 L184.28,403.19 L185.33,404.22 L186.51,405.05 L187.81,405.66" stroke-width="0.55"/>
<path d="M205.49,368.75 L204.25,368.01 L202.91,367.5 L201.46,367.21 L199.94,367.16 L198.35,367.34 L196.72,367.75 L195.07,368.38 L193.42,369.24 L191.78,370.3 L190.18,371.55 L188.64,372.99 L187.18,374.59 L185.81,376.33 L184.55,378.19 L183.42,380.15 L182.43,382.18 L181.59,384.26 L180.91,386.37 L180.41,388.48 L180.08,390.56 L179.93,392.58 L179.96,394.53 L180.18,396.38 L180.58,398.11 L181.15,399.69 L181.89,401.1 L182.78,402.34 L183.83,403.37 L185.01,404.2 L186.31,404.81" stroke-width="0.55"/>
<ellipse cx="199.4" cy="388.8" rx="20.5" ry="13" transform="rotate(-62 199.4 388.8)" fill="#fff"/>
<ellipse cx="196.6" cy="381.6" rx="5.2" ry="4.2" transform="rotate(-62 196.6 381.6)" />
<ellipse cx="197.4" cy="382.2" rx="3.8" ry="3" transform="rotate(-62 197.4 382.2)" stroke-width="0.7"/>
<ellipse cx="203.9" cy="391.2" rx="5.2" ry="4.4" transform="rotate(-62 203.9 391.2)" />
<ellipse cx="204.6" cy="391.8" rx="3.8" ry="3.2" transform="rotate(-62 204.6 391.8)" stroke-width="1.4" stroke="#666"/>
<ellipse cx="192.4" cy="397.5" rx="5.2" ry="4.4" transform="rotate(-62 192.4 397.5)" />
<ellipse cx="193.1" cy="398.1" rx="3.8" ry="3.2" transform="rotate(-62 193.1 398.1)" stroke-width="1.4" stroke="#666"/>
<ellipse cx="208.1" cy="379.1" rx="2.2" ry="2.9" transform="rotate(-30 208.1 379.1)" />
<ellipse cx="188.3" cy="390.5" rx="2.2" ry="2.9" transform="rotate(-30 188.3 390.5)" />
</g>
<path d="M226.4,384.2 L250.3,397.2" stroke-width="5.4" stroke="#000"/>
<path d="M226.4,384.2 L250.3,397.2" stroke-width="3.2" stroke="#777"/>
<path d="M250.6,394.9 L259.3,396.5 L254.3,405.1 L249.1,399.3 Z" fill="#fff" stroke-width="1"/>
<ellipse cx="256.8" cy="400.8" rx="5" ry="3.6" transform="rotate(-62 256.8 400.8)" fill="#fff" stroke-width="1.3"/>
<ellipse cx="257" cy="400.9" rx="2.9" ry="2" transform="rotate(-62 257 400.9)" fill="#444" stroke-width="0.8"/>
<ellipse cx="257" cy="400.9" rx="1.2" ry="0.8" transform="rotate(-62 257 400.9)" fill="#ccc" stroke="none"/>
<path d="M226.4,428.2 L250.3,441.7" stroke-width="5.4" stroke="#000"/>
<path d="M226.4,428.2 L250.3,441.7" stroke-width="3.2" stroke="#777"/>
<path d="M250.6,439.4 L259.3,441 L254.3,449.6 L249.1,443.8 Z" fill="#fff" stroke-width="1"/>
<ellipse cx="256.8" cy="445.3" rx="5" ry="3.6" transform="rotate(-62 256.8 445.3)" fill="#fff" stroke-width="1.3"/>
<ellipse cx="257" cy="445.4" rx="2.9" ry="2" transform="rotate(-62 257 445.4)" fill="#444" stroke-width="0.8"/>
<ellipse cx="257" cy="445.4" rx="1.2" ry="0.8" transform="rotate(-62 257 445.4)" fill="#ccc" stroke="none"/>
</svg></body></html>
